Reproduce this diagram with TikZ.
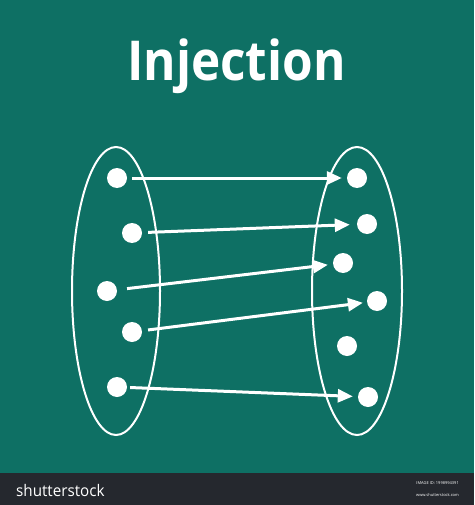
\documentclass[tikz,border=0pt]{standalone}
\usepackage{fontspec}
\setmainfont{Open Sans}
\usetikzlibrary{arrows.meta}
\definecolor{bg}{RGB}{14,112,100}
\definecolor{bar}{RGB}{37,40,46}
\tikzset{
  dot/.style={circle,fill=white,minimum size=20pt,inner sep=0pt},
  setell/.style={draw=white,line width=2pt},
  maparrow/.style={white,line width=3pt,-{Triangle[length=15pt,width=13pt]}},
}
\begin{document}
\begin{tikzpicture}[x=1pt,y=-1pt]
\fill[bg] (0,0) rectangle (474,505);
\useasboundingbox (0,0) rectangle (474,505);
\fill[bar] (0,473) rectangle (474,505);
\node[anchor=base,text=white,inner sep=0pt] (title) at (236.5,81) {\scalebox{0.9}[1]{\fontsize{55}{60}\selectfont\bfseries Injection}};
\node[anchor=west,text=white,inner sep=0pt] (brand) at (16,490) {\scalebox{0.95}[1]{\fontsize{16}{20}\selectfont shutterstock}};
\node[anchor=east,text=white,inner sep=0pt,align=right] (imgid) at (459,489.5) {\fontsize{4}{6}\selectfont IMAGE ID: 1998994391\\ \fontsize{4}{6}\selectfont www.shutterstock.com};
\draw[setell] (116,291) ellipse [x radius=44, y radius=144];
\draw[setell] (357,291) ellipse [x radius=45, y radius=144];
\node[dot] (l1) at (117,178) {};
\node[dot] (l2) at (132,233) {};
\node[dot] (l3) at (107,291) {};
\node[dot] (l4) at (132,332) {};
\node[dot] (l5) at (117,387) {};
\node[dot] (r1) at (357,178) {};
\node[dot] (r2) at (367,224) {};
\node[dot] (r3) at (343,263) {};
\node[dot] (r4) at (377,301) {};
\node[dot] (r5) at (347,346) {};
\node[dot] (r6) at (368,397) {};
\draw[maparrow,shorten <=5pt,shorten >=5pt] (l1) -- (r1);
\draw[maparrow,shorten <=6pt,shorten >=7pt] (l2) -- (r2);
\draw[maparrow,shorten <=10pt,shorten >=5pt] (l3) -- (r3);
\draw[maparrow,shorten <=6pt,shorten >=4pt] (l4) -- (r4);
\draw[maparrow,shorten <=3pt,shorten >=5pt] (l5) -- (r6);
\end{tikzpicture}
\end{document}
